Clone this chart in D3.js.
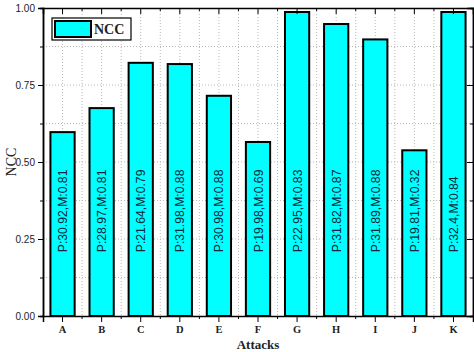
<!DOCTYPE html>
<html>
<head>
<meta charset="utf-8">
<script src="https://cdn.jsdelivr.net/npm/d3@7"></script>
<style>
  body { margin: 0; background: #fff; }
  svg { display: block; }
  .grid line { stroke: #b8b8b8; stroke-dasharray: 1,2; }
  .grid path { display: none; }
</style>
</head>
<body>
<svg id="chart" width="474" height="352"></svg>
<script>
const attacks = ['A','B','C','D','E','F','G','H','I','J','K'];
const ncc = [0.597, 0.675, 0.822, 0.818, 0.715, 0.565, 0.987, 0.948, 0.898, 0.538, 0.987];
const barLabels = ['P:30.92,M:0.81','P:28.97,M:0.81','P:21.64,M:0.79','P:31.98,M:0.88','P:30.98,M:0.88',
  'P:19.98,M:0.69','P:22.95,M:0.83','P:31.82,M:0.87','P:31.89,M:0.88','P:19.81,M:0.32','P:32.4,M:0.84'];
const yTicks = [0, 0.25, 0.5, 0.75, 1.0];
const yMinor = [0.125, 0.375, 0.625, 0.875];

const margin = {top: 8, right: 1, bottom: 36, left: 43};
const W = 474, H = 352;
const width = W - margin.left - margin.right;
const height = H - margin.top - margin.bottom;

const svg = d3.select('#chart');
const g = svg.append('g').attr('transform', `translate(${margin.left},${margin.top})`);

const x = d3.scaleBand().domain(attacks).range([0, width]).paddingInner(0.38).paddingOuter(0.19);
const xc = d => x(d) + x.bandwidth() / 2;
const y = d3.scaleLinear().domain([0, 1]).range([height, 0]);

// boundaries between categories (minor ticks)
const step = x.step();
const xBounds = d3.range(1, attacks.length).map(i => i * step);

// grid lines
const gridY = yTicks.concat(yMinor).filter(v => v > 0 && v < 1);
g.append('g').attr('class', 'grid')
  .selectAll('line').data(gridY).enter().append('line')
  .attr('x1', 0).attr('x2', width).attr('y1', d => y(d)).attr('y2', d => y(d));
g.append('g').attr('class', 'grid')
  .selectAll('line').data(attacks.map(xc).concat(xBounds)).enter().append('line')
  .attr('x1', d => d).attr('x2', d => d).attr('y1', 0).attr('y2', height);

// bars
g.append('g').selectAll('rect').data(ncc).enter().append('rect')
  .attr('x', (d, i) => x(attacks[i]))
  .attr('y', d => y(d))
  .attr('width', x.bandwidth())
  .attr('height', d => height - y(d))
  .attr('fill', '#00ffff')
  .attr('stroke', '#000')
  .attr('stroke-width', 2);

// labels inside bars
g.append('g').selectAll('text').data(barLabels).enter().append('text')
  .attr('transform', (d, i) => `translate(${xc(attacks[i]) + 4.5},${y(0.207)}) rotate(-90)`)
  .attr('font-family', 'Liberation Sans, Arial, sans-serif')
  .attr('font-size', 12.2)
  .attr('fill', '#0a2a3a')
  .text(d => d);

// axes
const yAxis = g.append('g').call(d3.axisLeft(y).tickValues(yTicks).tickFormat(d3.format('.2f')).tickSize(5).tickPadding(3));
yAxis.selectAll('text').attr('font-family', 'Liberation Sans, Arial, sans-serif').attr('font-size', 10).attr('fill', '#222');
g.append('g').call(d3.axisLeft(y).tickValues(yMinor).tickFormat('').tickSize(3));

const xAxis = g.append('g').attr('transform', `translate(0,${height})`)
  .call(d3.axisBottom(x).tickSize(6).tickPadding(4));
xAxis.selectAll('text').attr('font-family', 'Liberation Serif, Times New Roman, serif')
  .attr('font-size', 10.5).attr('font-weight', 'bold').attr('fill', '#222');
g.append('g').attr('transform', `translate(0,${height})`)
  .selectAll('line').data(xBounds).enter().append('line')
  .attr('x1', d => d).attr('x2', d => d).attr('y1', 0).attr('y2', 3).attr('stroke', '#000');

// top and right axes (inward ticks)
g.append('g').call(d3.axisTop(x).tickSize(-6).tickFormat(''));
g.append('g').selectAll('line').data(xBounds).enter().append('line')
  .attr('x1', d => d).attr('x2', d => d).attr('y1', 0).attr('y2', 3).attr('stroke', '#000');
g.append('g').attr('transform', `translate(${width},0)`)
  .call(d3.axisRight(y).tickValues(yTicks).tickSize(-6).tickFormat(''));
g.append('g').attr('transform', `translate(${width},0)`)
  .call(d3.axisRight(y).tickValues(yMinor).tickSize(-3).tickFormat(''));
g.selectAll('.domain').attr('stroke', '#000').attr('stroke-width', 1.5);

// legend
const lg = g.append('g').attr('transform', 'translate(9,10)');
lg.append('rect').attr('width', 79).attr('height', 22).attr('fill', '#fff').attr('stroke', '#000').attr('stroke-width', 1.2);
lg.append('rect').attr('x', 3).attr('y', 3).attr('width', 36).attr('height', 16)
  .attr('fill', '#00ffff').attr('stroke', '#000').attr('stroke-width', 2);
lg.append('text').attr('x', 42).attr('y', 16).text('NCC')
  .attr('font-family', 'Liberation Serif, Times New Roman, serif').attr('font-size', 14).attr('font-weight', 'bold').attr('fill', '#222');

// axis titles
svg.append('text').attr('transform', `translate(16,${margin.top + height / 2}) rotate(-90)`)
  .attr('text-anchor', 'middle').attr('font-family', 'Liberation Serif, Times New Roman, serif')
  .attr('font-size', 14).attr('fill', '#222').text('NCC');
svg.append('text').attr('x', margin.left + width / 2).attr('y', 349)
  .attr('text-anchor', 'middle').attr('font-family', 'Liberation Serif, Times New Roman, serif')
  .attr('font-size', 13).attr('font-weight', 'bold').attr('fill', '#222').text('Attacks');
</script>
</body>
</html>
